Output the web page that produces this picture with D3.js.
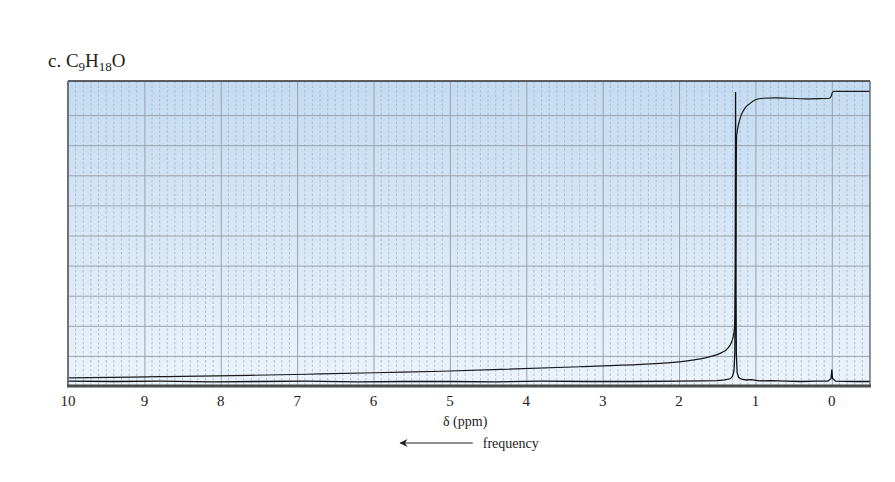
<!DOCTYPE html>
<html>
<head>
<meta charset="utf-8">
<script src="https://cdn.jsdelivr.net/npm/d3@7"></script>
<style>
  body { margin:0; background:#fff; }
  svg text { font-family:"Liberation Serif", "DejaVu Serif", serif; fill:#222; }
</style>
</head>
<body>
<div id="chart-area"></div>
<script>
const margin = {top:81, right:25, bottom:96, left:68};
const width = 895 - margin.left - margin.right;
const height = 482 - margin.top - margin.bottom;

// tick labels along the ppm axis
const ppmTicks = [10, 9, 8, 7, 6, 5, 4, 3, 2, 1, 0];

// spectrum trace [ppm, intensity]
const spectrumPpm = [10.0, 9.4, 8.8, 8.1, 7.5, 6.9, 6.2, 5.6, 5.0, 4.4, 3.8, 3.2, 2.6, 2.0, 1.7, 1.5, 1.40, 1.33, 1.30, 1.28, 1.27, 1.265, 1.26, 1.255, 1.25, 1.24, 1.22, 1.18, 1.12, 1.05, 0.95, 0.8, 0.6, 0.4, 0.2, 0.05, 0.01, 0.0, -0.01, -0.05, -0.3, -0.5];
const spectrumVal = [1.6, 1.5, 1.6, 1.4, 1.5, 1.6, 1.4, 1.5, 1.5, 1.4, 1.6, 1.5, 1.5, 1.6, 1.7, 1.8, 2.0, 2.4, 3.2, 5.2, 11, 40, 97.7, 40, 11, 4.5, 2.8, 2.3, 2.0, 2.1, 1.7, 1.8, 1.6, 1.5, 1.6, 1.6, 2.5, 5.5, 2.5, 1.6, 1.5, 1.5];

// integration trace [ppm, height]
const integralPpm = [10.0, 8.8, 7.62, 6.7, 5.98, 5.1, 4.34, 3.3, 2.5, 2.0, 1.8, 1.6, 1.45, 1.36, 1.31, 1.28, 1.265, 1.255, 1.25, 1.245, 1.20, 1.137, 1.07, 1.005, 0.896, 0.745, 0.55, 0.35, 0.15, 0.03, 0.01, -0.01, -0.03, -0.2, -0.5];
const integralVal = [2.7, 3.1, 3.55, 4.0, 4.4, 4.9, 5.5, 6.4, 7.2, 8.0, 8.7, 9.7, 11.0, 12.6, 14.8, 18, 24, 50, 75, 83.4, 88.9, 92.3, 93.9, 95.0, 95.6, 95.7, 95.6, 95.4, 95.5, 95.6, 96.2, 97.6, 97.9, 97.9, 97.9];

const svg = d3.select("#chart-area").append("svg")
    .attr("width", 895)
    .attr("height", 482);

const g = svg.append("g")
    .attr("transform", "translate(" + margin.left + "," + margin.top + ")");

const x = d3.scaleLinear().domain([10, -0.5]).range([0, width]);
const y = d3.scaleLinear().domain([0, 100]).range([height, 4]);

// blue gradient panel
const defs = svg.append("defs");
const grad = defs.append("linearGradient")
    .attr("id", "bg").attr("x1", 0).attr("y1", 0).attr("x2", 0).attr("y2", 1);
grad.append("stop").attr("offset", "0%").attr("stop-color", "#c3dbf2");
grad.append("stop").attr("offset", "100%").attr("stop-color", "#ebf3fb");

g.append("rect")
    .attr("width", width)
    .attr("height", height)
    .attr("fill", "url(#bg)");

// minor dotted lines every 0.1 ppm
var minor = d3.range(-4, 100).map(d => d / 10).filter(d => Math.round(d * 10) % 10 !== 0);
g.append("g").selectAll("line")
    .data(minor)
    .enter().append("line")
    .attr("x1", d => x(d)).attr("x2", d => x(d))
    .attr("y1", 0).attr("y2", height)
    .attr("stroke", "#a8b4c1")
    .attr("stroke-width", 0.8)
    .attr("stroke-dasharray", "2.5,2");

// major grid
g.append("g")
    .attr("class", "grid")
    .attr("transform", "translate(0," + height + ")")
    .call(d3.axisBottom(x).tickValues(ppmTicks).tickSize(-height).tickFormat(""))
    .call(a => a.select(".domain").remove())
    .call(a => a.selectAll("line").attr("stroke", "#9aa2ab").attr("stroke-width", 1));

g.append("g")
    .attr("class", "grid")
    .call(d3.axisLeft(y).tickValues(d3.range(10, 100, 10)).tickSize(-width).tickFormat(""))
    .call(a => a.select(".domain").remove())
    .call(a => a.selectAll("line").attr("stroke", "#9aa2ab").attr("stroke-width", 1));

const line = d3.line()
    .x(d => x(d[0]))
    .y(d => y(d[1]));

// integration curve
g.append("path")
    .datum(d3.zip(integralPpm, integralVal))
    .attr("fill", "none")
    .attr("stroke", "#1a1a1a")
    .attr("stroke-width", 1.2)
    .attr("d", line.curve(d3.curveMonotoneX));

// spectrum
g.append("path")
    .datum(d3.zip(spectrumPpm, spectrumVal))
    .attr("fill", "none")
    .attr("stroke", "#111")
    .attr("stroke-width", 1.3)
    .attr("d", line.curve(d3.curveLinear));

// frame
g.append("line").attr("x1", 0).attr("x2", width).attr("y1", 0).attr("y2", 0)
    .attr("stroke", "#2b2b2b").attr("stroke-width", 1.5);
g.append("line").attr("x1", 0).attr("x2", 0).attr("y1", 0).attr("y2", height)
    .attr("stroke", "#6e7378").attr("stroke-width", 2);
g.append("line").attr("x1", width).attr("x2", width).attr("y1", 0).attr("y2", height)
    .attr("stroke", "#6e7378").attr("stroke-width", 1.5);
g.append("line").attr("x1", -1).attr("x2", width + 1).attr("y1", height).attr("y2", height)
    .attr("stroke", "#4a4d50").attr("stroke-width", 3);

// tick labels
g.selectAll(".tlabel")
    .data(ppmTicks)
    .enter().append("text")
    .attr("class", "tlabel")
    .attr("x", d => x(d))
    .attr("y", height + 20)
    .attr("text-anchor", "middle")
    .style("font-size", "15px")
    .text(d => d);

// axis title
g.append("text")
    .attr("x", x(4.8))
    .attr("y", height + 40)
    .attr("text-anchor", "middle")
    .style("font-size", "14px")
    .text("δ (ppm)");

// frequency arrow
defs.append("marker")
    .attr("id", "arrow")
    .attr("viewBox", "0 0 10 10")
    .attr("refX", 9).attr("refY", 5)
    .attr("markerWidth", 12).attr("markerHeight", 8)
    .attr("markerUnits", "userSpaceOnUse")
    .attr("orient", "auto")
    .append("path").attr("d", "M0,0 L10,5 L0,10 L3,5 Z").attr("fill", "#222");

g.append("line")
    .attr("x1", x(4.7)).attr("x2", x(5.65))
    .attr("y1", height + 57).attr("y2", height + 57)
    .attr("stroke", "#222").attr("stroke-width", 1.2)
    .attr("marker-end", "url(#arrow)");

g.append("text")
    .attr("x", x(4.57))
    .attr("y", height + 62)
    .style("font-size", "14px")
    .text("frequency");

// panel title
const title = svg.append("text")
    .attr("x", 48)
    .attr("y", 67)
    .style("font-size", "19px");
title.append("tspan").text("c. C");
title.append("tspan").attr("dy", 4).style("font-size", "13px").text("9");
title.append("tspan").attr("dy", -4).text("H");
title.append("tspan").attr("dy", 4).style("font-size", "13px").text("18");
title.append("tspan").attr("dy", -4).text("O");
</script>
</body>
</html>
